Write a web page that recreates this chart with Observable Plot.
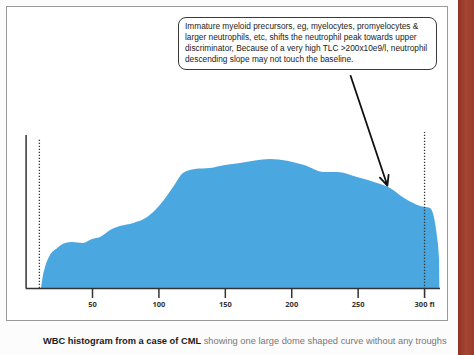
<!DOCTYPE html>
<html>
<head>
<meta charset="utf-8">
<script src="https://cdn.jsdelivr.net/npm/d3@7"></script>
<script src="https://cdn.jsdelivr.net/npm/@observablehq/plot@0.6"></script>
<style>
  html, body { margin: 0; padding: 0; }
  body { width: 474px; height: 355px; background: #fcfcfc; position: relative; overflow: hidden; font-family: "Liberation Sans", Arial, sans-serif; }
  #strip { position: absolute; left: 458px; top: 0; width: 16px; height: 355px; background: linear-gradient(90deg, #8e3322, #a64634 50%, #98392a); }
  #frame { position: absolute; left: 6px; top: 6px; width: 440px; height: 313px; border: 1.5px solid #9a9a9a; background: #ffffff; }
  #chart { position: absolute; left: 0; top: 0; }
  #note { position: absolute; left: 178px; top: 17px; width: 251px; height: 48px; padding: 3px 0 0 6px; border: 1.5px solid #3a3a3a; border-radius: 8px; background: #fff; font-size: 8.3px; line-height: 11px; color: #222; white-space: nowrap; }
  #caption { position: absolute; left: 43px; top: 336px; font-size: 9.3px; color: #777; white-space: nowrap; }
  #caption b { color: #1a1a1a; }
</style>
</head>
<body>
<div id="strip"></div>
<div id="frame"></div>
<div id="chart"></div>
<div id="note">Immature myeloid precursors, eg, myelocytes, promyelocytes &amp;<br>larger neutrophils, etc, shifts the neutrophil peak towards upper<br>discriminator, Because of a very high TLC &gt;200x10e9/l, neutrophil<br>descending slope may not touch the baseline.</div>
<div id="caption"><b>WBC histogram from a case of CML</b> showing one large dome shaped curve without any troughs</div>
<script>
// Cell volume (fL) and relative count
const volume = [11.6, 13, 14.6, 18.4, 23.6, 29.7, 35, 43.2, 50, 56, 63.6, 71, 81, 91.5, 101, 111, 118.5, 127.5, 138.8, 150, 161.4, 184, 209.6, 224.6, 234.5, 249.5, 264.6, 274.4, 285, 297, 304.5, 309.8, 311.3, 311.5];
const count  = [0, 8, 13.7, 21.6, 26, 29.4, 30, 29.4, 32, 33.3, 37.9, 40.5, 42.5, 46.4, 54.2, 66, 75.2, 77.8, 78.4, 80.4, 81.7, 84.3, 80.4, 75.8, 75.8, 72.5, 68.6, 65.4, 58.8, 53.6, 52.3, 33.3, 18.3, 0];

// Discriminators (fL) and their top heights
const discriminators = [10, 300];
const discriminatorTop = [98, 102];
const discriminatorBottom = [0, -6.5];

const ticks = [50, 100, 150, 200, 250, 300];
const tickLabels = ["50", "100", "150", "200", "250", "300 fl"];
const xMax = 312;
const yMax = 100;

// Annotation arrow (data coordinates)
const arrowFrom = [244.3, 139];
const arrowTo = [272, 67.3];

const data = volume.map((v, i) => ({v, c: count[i]}));
const disc = discriminators.map((d, i) => ({d, top: discriminatorTop[i], bottom: discriminatorBottom[i]}));

const chart = Plot.plot({
  width: 458,
  height: 330,
  marginLeft: 25.6,
  marginRight: 18,
  marginTop: 135,
  marginBottom: 42,
  style: {background: "transparent", overflow: "visible"},
  x: {domain: [0, xMax], axis: null},
  y: {domain: [0, yMax], axis: null},
  marks: [
    Plot.areaY(data, {x: "v", y: "c", fill: "#4aa7df", curve: "monotone-x"}),
    Plot.ruleX(disc, {x: "d", y1: "bottom", y2: "top", stroke: "#333", strokeWidth: 1.3, strokeDasharray: "1.3,1.7", clip: false}),
    Plot.ruleY([0], {x1: 0, x2: xMax, stroke: "#333", strokeWidth: 1.5}),
    Plot.ruleX([0], {y1: 0, y2: yMax, stroke: "#333", strokeWidth: 1.5}),
    Plot.axisX(ticks, {tickSize: 10, stroke: "#333", strokeWidth: 1.5, tickPadding: 3, fontSize: 7.5, fontWeight: "bold", fill: "#333", tickFormat: (d) => tickLabels[ticks.indexOf(d)]}),
    Plot.arrow([{}], {x1: () => arrowFrom[0], y1: () => arrowFrom[1], x2: () => arrowTo[0], y2: () => arrowTo[1], stroke: "#111", strokeWidth: 1.8, headLength: 9, headAngle: 50, clip: false})
  ]
});
document.getElementById("chart").appendChild(chart);
</script>
</body>
</html>
